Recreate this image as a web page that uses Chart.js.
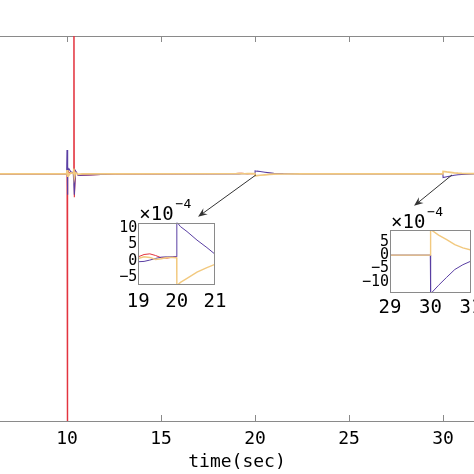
<!DOCTYPE html>
<html><head><meta charset="utf-8">
<script src="https://cdn.jsdelivr.net/npm/chart.js@4.4.1/dist/chart.umd.min.js"></script>
<style>
html,body{margin:0;padding:0;background:#fff;overflow:hidden}
#wrap{position:relative;width:474px;height:474px;background:#fff}
canvas{position:absolute}
</style></head><body>
<div id="wrap">
<canvas id="main" width="474" height="474" style="left:0;top:0;width:474px;height:474px"></canvas>
<canvas id="in1" width="140" height="125" style="left:95px;top:190px;width:140px;height:125px"></canvas>
<canvas id="in2" width="134" height="125" style="left:340px;top:198px;width:134px;height:125px"></canvas>
</div>
<script>
// ---------- data ----------
const EXP = 1e-4;                       // inset unit (×10^-4)
// disturbance around t = 10 s (raw units)
const spikeT      = [6.0, 9.98, 10.0, 10.02, 10.05, 10.1, 10.2, 10.33, 10.36, 10.39, 10.45, 10.6, 10.8, 11.2, 11.8, 12.5];
const redSpike    = [0, 0, 0.001, -0.2, 0.0015, 0.0005, 0.0003, 0.0002, 0.2, -0.009, 0.001, -0.0006, -0.0005, -0.0004, -0.0002, 0];
const purpleSpike = [0, 0, 0.0092, -0.008, 0.001, 0.002, 0.0008, 0.0005, -0.003, -0.008, 0.0012, -0.0006, -0.0005, -0.0004, -0.0002, 0];
const orangeSpike = [0, 0, 0.0015, -0.0012, 0.0008, -0.0005, 0.0004, 0.0002, 0.002, -0.0015, 0.0005, -0.0002, 0, 0, 0, 0];
// event at t = 20 s (×10^-4)
const t20      = [19.0, 19.15, 19.3, 19.45, 19.6, 19.75, 19.9, 20.0, 20.005, 20.1, 20.27, 20.53, 20.79, 21.0, 21.5, 22.5];
const red20    = [1.2, 1.9, 2.1, 1.6, 0.9, 0.8, 1.1, 1.2];
const purple20 = [-0.3, -0.2, 0.2, 0.7, 1.1, 1.2, 1.2, 1.2, 11.8, 10.4, 8.9, 6.3, 4.0, 2.0, 0.8, 0];
const orange20 = [0.7, 1.2, 1.0, 0.4, 0.6, 1.0, 1.0, 0.9, -7.6, -6.6, -5.4, -3.5, -2.1, -1.1, -0.4, 0];
// event at t = 30 s (×10^-4)
const t30      = [29.995, 30.0, 30.005, 30.2, 30.4, 30.6, 30.8, 31.0, 31.4, 32.0];
const purple30 = [0, 0, -14.5, -11.3, -8.3, -5.4, -3.6, -2.25, -1.0, -0.3];
const orange30 = [0, 0, 9.6, 7.5, 5.8, 3.9, 2.7, 1.9, 1.0, 0.4];

const xTicks = [10, 15, 20, 25, 30];
const xTickLabels = ['10', '15', '20', '25', '30'];
const xTitle = 'time(sec)';
const in1XTicks = [19, 20, 21], in1YTicks = [-5, 0, 5, 10];
const in2XTicks = [29, 30, 31], in2YTicks = [-10, -5, 0, 5];
const expLabel = ['×10', '−4'];
// arrows: from main-plot feature to inset (data coords of main plot)
const arrows = [
  {from: [20.05, -0.0004], to: [16.97, -0.0165]},
  {from: [30.48, -0.0004], to: [28.46, -0.0123]}
];

// ---------- styling ----------
const FONT = "'DejaVu Sans Mono', monospace";
const AX = '#8a8a8a';
const COL = {red: '#e3343f', purple: '#5a3fa3', orange: '#f2c97f'};

function buildSeries(spikeVals, seg20Vals, seg30Vals) {
  const pts = [];
  spikeVals.forEach((v, i) => pts.push({x: spikeT[i], y: v}));
  seg20Vals.forEach((v, i) => pts.push({x: t20[i], y: v * EXP}));
  if (seg30Vals) seg30Vals.forEach((v, i) => pts.push({x: t30[i], y: v * EXP}));
  return pts;
}
function datasets(w, wo) {
  return [
    {data: buildSeries(orangeSpike, orange20, orange30), borderColor: COL.orange, borderWidth: wo},
    {data: buildSeries(purpleSpike, purple20, purple30), borderColor: COL.purple, borderWidth: w},
    {data: buildSeries(redSpike, red20, null), borderColor: COL.red, borderWidth: w}
  ].map(d => Object.assign(d, {pointRadius: 0, tension: 0, fill: false}));
}

function drawArrow(ctx, x0, y0, x1, y1) {
  const ang = Math.atan2(y1 - y0, x1 - x0), L = 10, H = 0.38;
  ctx.beginPath(); ctx.moveTo(x0, y0); ctx.lineTo(x1 - Math.cos(ang) * 4, y1 - Math.sin(ang) * 4); ctx.stroke();
  ctx.beginPath();
  ctx.moveTo(x1, y1);
  ctx.lineTo(x1 - L * Math.cos(ang - H), y1 - L * Math.sin(ang - H));
  ctx.lineTo(x1 - 0.6 * L * Math.cos(ang), y1 - 0.6 * L * Math.sin(ang));
  ctx.lineTo(x1 - L * Math.cos(ang + H), y1 - L * Math.sin(ang + H));
  ctx.closePath(); ctx.fill();
}

const mainDecor = {
  id: 'mainDecor',
  beforeDatasetsDraw(chart) {
    const {ctx, chartArea: a, scales: {x}} = chart;
    ctx.save();
    ctx.strokeStyle = AX; ctx.lineWidth = 1;
    ctx.beginPath(); ctx.moveTo(a.left, a.top + 0.5); ctx.lineTo(a.right, a.top + 0.5); ctx.stroke();
    for (const v of xTicks) {
      const px = Math.round(x.getPixelForValue(v)) + 0.5;
      ctx.beginPath();
      ctx.moveTo(px, a.bottom); ctx.lineTo(px, a.bottom - 6);
      ctx.moveTo(px, a.top); ctx.lineTo(px, a.top + 6);
      ctx.stroke();
    }
    ctx.restore();
  },
  afterDraw(chart) {
    const {ctx, scales: {x, y}} = chart;
    ctx.save();
    ctx.strokeStyle = '#333'; ctx.fillStyle = '#333'; ctx.lineWidth = 1;
    for (const ar of arrows) {
      drawArrow(ctx, x.getPixelForValue(ar.from[0]), y.getPixelForValue(ar.from[1]),
                     x.getPixelForValue(ar.to[0]), y.getPixelForValue(ar.to[1]));
    }
    ctx.restore();
  }
};

new Chart(document.getElementById('main'), {
  type: 'line',
  data: {datasets: datasets(1.1, 1.7)},
  options: {
    responsive: false, animation: false, events: [],
    layout: {padding: {top: 36, left: 0, right: 0, bottom: 0}},
    plugins: {legend: {display: false}, tooltip: {enabled: false}},
    scales: {
      x: {
        type: 'linear', min: 6.436, max: 31.649,
        grid: {display: false, drawTicks: false},
        border: {display: true, color: AX, width: 1},
        ticks: {font: {family: FONT, size: 18}, color: '#000', padding: 8, maxRotation: 0, autoSkip: false,
                callback: (v, i) => xTickLabels[i]},
        afterBuildTicks: s => { s.ticks = xTicks.map(v => ({value: v})); },
        afterFit: s => { s.height = 53; s.paddingLeft = 0; s.paddingRight = 0; },
        title: {display: true, text: xTitle, font: {family: FONT, size: 18}, color: '#000', padding: {top: 0, bottom: 1}}
      },
      y: {display: false, min: -0.095, max: 0.053}
    }
  },
  plugins: [mainDecor]
});

function makeInset(id, c) {
  const decor = {
    id: 'insetDecor',
    afterDraw(chart) {
      const {ctx, chartArea: a} = chart;
      ctx.save();
      ctx.strokeStyle = AX; ctx.lineWidth = 1;
      ctx.strokeRect(Math.round(a.left) + 0.5, Math.round(a.top) + 0.5,
                     Math.round(a.right - a.left) - 1, Math.round(a.bottom - a.top) - 1);
      ctx.fillStyle = '#000'; ctx.textBaseline = 'alphabetic'; ctx.textAlign = 'left';
      ctx.font = '19px ' + FONT;
      ctx.fillText(expLabel[0], a.left + 1, a.top - 2.5);
      const w = ctx.measureText(expLabel[0]).width;
      ctx.font = '13px ' + FONT;
      ctx.fillText(expLabel[1], a.left + 3 + w, a.top - 14.5);
      ctx.restore();
    }
  };
  new Chart(document.getElementById(id), {
    type: 'line',
    data: {datasets: datasets(1, 1.4)},
    options: {
      responsive: false, animation: false, events: [],
      layout: {padding: {top: c.padTop, right: c.padRight, left: 0, bottom: 0}},
      plugins: {legend: {display: false}, tooltip: {enabled: false}},
      scales: {
        x: {
          type: 'linear', min: c.xTicks[0], max: c.xTicks[c.xTicks.length - 1],
          grid: {display: false, drawTicks: false}, border: {display: false},
          ticks: {font: {family: FONT, size: 19}, color: '#000', padding: c.xPad, maxRotation: 0, autoSkip: false,
                  callback: v => String(v)},
          afterBuildTicks: s => { s.ticks = c.xTicks.map(v => ({value: v})); },
          afterFit: s => { s.height = c.xAxisHeight; s.paddingLeft = 0; s.paddingRight = 0; }
        },
        y: {
          type: 'linear', min: c.yMin * EXP, max: c.yMax * EXP,
          grid: {display: false, drawTicks: false}, border: {display: false},
          ticks: {font: {family: FONT, size: 15}, color: '#000', padding: 1, autoSkip: false,
                  callback: v => { const n = Math.round(v / EXP); return n < 0 ? '−' + (-n) : String(n); }},
          afterBuildTicks: s => { s.ticks = c.yTicks.map(v => ({value: v * EXP})); },
          afterFit: s => { s.width = c.yAxisWidth; s.paddingTop = 0; s.paddingBottom = 0; }
        }
      }
    },
    plugins: [decor]
  });
}

makeInset('in1', {xTicks: in1XTicks, yTicks: in1YTicks, yMin: -7.4, yMax: 11.6,
  yAxisWidth: 43.3, padTop: 32.7, padRight: 20, xAxisHeight: 30, xPad: 6});
makeInset('in2', {xTicks: in2XTicks, yTicks: in2YTicks, yMin: -14.2, yMax: 9.4,
  yAxisWidth: 50, padTop: 32, padRight: 3, xAxisHeight: 30, xPad: 4});
</script>
</body></html>
